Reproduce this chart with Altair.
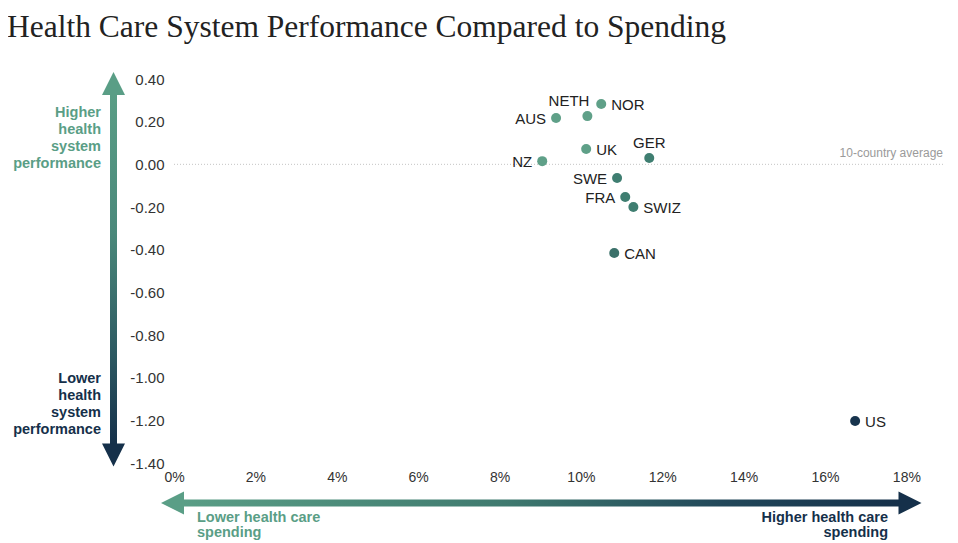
import altair as alt
import pandas as pd

# ---- data ----
countries = ["AUS", "NETH", "NOR", "UK", "NZ", "GER", "SWE", "FRA", "SWIZ", "CAN", "US"]
spending = [9.39, 10.16, 10.50, 10.13, 9.05, 11.68, 10.89, 11.09, 11.29, 10.82, 16.74]
performance = [0.217, 0.226, 0.283, 0.072, 0.015, 0.030, -0.064, -0.153, -0.200, -0.416, -1.203]
label_pos = ["left", "above-left", "right", "right", "left", "above", "left", "left", "right", "right", "right"]
point_colors = ["#5fa088", "#5fa088", "#5fa088", "#5fa088", "#5fa088",
                "#3f7e71", "#3f7e71", "#3f7e71", "#3f7e71", "#3b716a", "#17344d"]

x_ticks = [0, 2, 4, 6, 8, 10, 12, 14, 16, 18]
y_ticks = [0.4, 0.2, 0.0, -0.2, -0.4, -0.6, -0.8, -1.0, -1.2, -1.4]
average_value = 0.0

title_text = "Health Care System Performance Compared to Spending"
avg_text = "10-country average"
up_text = ["Higher", "health", "system", "performance"]
down_text = ["Lower", "health", "system", "performance"]
left_text = ["Lower health care", "spending"]
right_text = ["Higher health care", "spending"]

TEAL = "#5a9e86"
NAVY = "#15304a"
FONT = "Liberation Sans"

df = pd.DataFrame({"country": countries, "spending": spending,
                   "performance": performance, "pos": label_pos})

xscale = alt.Scale(domain=[0, 18.9], nice=False, zero=False)
yscale = alt.Scale(domain=[-1.4, 0.4], nice=False, zero=False)

base = alt.Chart(df).encode(
    x=alt.X("spending:Q", scale=xscale,
            axis=alt.Axis(values=x_ticks, title=None, labelExpr="datum.value + '%'",
                          labelPadding=7, labelFlush=False, labelOverlap=False)),
    y=alt.Y("performance:Q", scale=yscale,
            axis=alt.Axis(values=y_ticks, title=None, format=".2f",
                          labelExpr="replace(datum.label, '\u2212', '-')",
                          labelFontSize=15,
                          labelPadding=10, labelFlush=False, labelOverlap=False)),
)

points = base.mark_circle(size=100, opacity=1).encode(
    color=alt.Color("country:N", scale=alt.Scale(domain=countries, range=point_colors), legend=None)
)

def labels(pos, **kw):
    return base.mark_text(font=FONT, fontSize=15, color="#222", **kw).encode(
        text="country:N").transform_filter(alt.datum.pos == pos)

lab_right = labels("right", align="left", baseline="middle", dx=10, dy=1)
lab_left = labels("left", align="right", baseline="middle", dx=-10, dy=1)
lab_above = labels("above", align="center", baseline="middle", dy=-15)
lab_aboveleft = labels("above-left", align="right", baseline="middle", dx=2, dy=-15)

one = alt.Data(values=[{"k": 0}])

zero_line = alt.Chart(one).mark_rule(
    color="#c4c4c4", strokeDash=[1, 2], strokeWidth=1
).encode(y=alt.datum(average_value), x=alt.value(0), x2=alt.value(769))

avg_label = alt.Chart(one).mark_text(
    text=avg_text, font=FONT, fontSize=12, color="#9a9a9a", align="right",
    baseline="alphabetic", dy=-7
).encode(x=alt.value(769), y=alt.datum(average_value))

v_grad = alt.Gradient(gradient="linear", x1=0, x2=0, y1=0, y2=1, stops=[
    alt.GradientStop(color=TEAL, offset=0),
    alt.GradientStop(color="#4a887a", offset=0.4),
    alt.GradientStop(color="#2c5861", offset=0.75),
    alt.GradientStop(color=NAVY, offset=1)])
h_grad = alt.Gradient(gradient="linear", x1=0, x2=1, y1=0, y2=0, stops=[
    alt.GradientStop(color=TEAL, offset=0),
    alt.GradientStop(color="#3f7a6f", offset=0.45),
    alt.GradientStop(color="#22485a", offset=0.75),
    alt.GradientStop(color=NAVY, offset=1)])

v_shaft = alt.Chart(one).mark_rect(fill=v_grad).encode(
    x=alt.value(-64), x2=alt.value(-57), y=alt.value(14), y2=alt.value(366))
h_shaft = alt.Chart(one).mark_rect(fill=h_grad).encode(
    x=alt.value(7), x2=alt.value(726), y=alt.value(420.5), y2=alt.value(427.5))

def head(path, color, x, y, size=529):
    return alt.Chart(one).mark_point(shape=path, filled=True, fill=color, size=size,
                                     opacity=1, strokeWidth=0).encode(
        x=alt.value(x), y=alt.value(y))

head_up = head("M0,-1L1,1L-1,1Z", TEAL, -60.5, 4.5)
head_down = head("M0,1L1,-1L-1,-1Z", NAVY, -60.5, 376)
head_left = head("M-1,0L1,-1L1,1Z", TEAL, -1.5, 424)
head_right = head("M1,0L-1,-1L-1,1Z", NAVY, 736, 424)

def note(lines, color, x, y, align, lh=17):
    return alt.Chart(one).mark_text(text=lines, font=FONT, fontSize=14.5, fontWeight="bold",
                                    color=color, align=align, baseline="alphabetic",
                                    lineHeight=lh).encode(x=alt.value(x), y=alt.value(y))

up_note = note(up_text, TEAL, -73, 38, "right")
down_note = note(down_text, NAVY, -73, 304, "right")
left_note = note(left_text, TEAL, 23, 443, "left", lh=15)
right_note = note(right_text, NAVY, 714, 443, "right", lh=15)

title = alt.Chart(one).mark_text(text=title_text, font="Liberation Serif", fontSize=31.5,
                                 color="#222", align="left", baseline="alphabetic").encode(
    x=alt.value(-167), y=alt.value(-42))

chart = alt.layer(
    zero_line, avg_label, v_shaft, h_shaft, head_up, head_down, head_left, head_right,
    up_note, down_note, left_note, right_note, title,
    points, lab_right, lab_left, lab_above, lab_aboveleft
).properties(
    width=769, height=384,
    padding={"left": 166, "top": 71, "right": 2, "bottom": 92},
    autosize=alt.AutoSizeParams(type="none"),
).configure_view(stroke=None).configure_axis(
    domain=False, ticks=False, grid=False, labelFont=FONT, labelFontSize=14, labelColor="#333"
)

chart.save("out.html", embed_options={"renderer": "svg", "actions": False})
